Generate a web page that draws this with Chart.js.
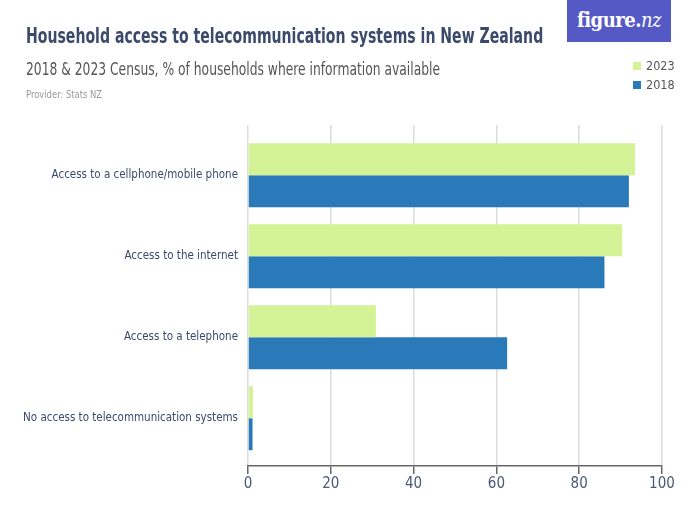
<!DOCTYPE html>
<html>
<head>
<meta charset="utf-8">
<script src="https://cdn.jsdelivr.net/npm/chart.js@4"></script>
<style>
  body { margin: 0; background: #fff; }
  #wrap { position: relative; width: 700px; height: 525px; font-family: "DejaVu Sans Condensed", "Roboto", sans-serif; }
  #chart { position: absolute; left: 0; top: 0; }
  .squeeze { display: inline-block; transform-origin: 0 0; white-space: nowrap; }
  .title { position: absolute; left: 26px; top: 24px; font-size: 21px; font-weight: bold; color: #3b4a6b; transform: scaleX(0.745); }
  .subtitle { position: absolute; left: 26px; top: 59px; font-size: 17px; color: #555; transform: scaleX(0.805); }
  .provider { position: absolute; left: 26px; top: 88px; font-size: 11px; color: #999; transform: scaleX(0.85); }
  .logo { position: absolute; left: 567px; top: 0; width: 104px; height: 42px; background: #5559c6; color: #fff;
          font-family: "DejaVu Serif Condensed", "DejaVu Serif", serif; font-size: 20px; font-weight: bold; text-align: center; line-height: 40px; letter-spacing: -0.5px; }
  .logo i { font-weight: normal; }
  .legend { position: absolute; left: 633px; top: 59px; font-size: 12.5px; color: #555; }
  .legend div { height: 19px; line-height: 14px; }
  .legend span { display: inline-block; width: 8px; height: 8px; margin-right: 5px; }
</style>
</head>
<body>
<div id="wrap">
  <canvas id="chart" width="700" height="525"></canvas>
  <div class="title squeeze">Household access to telecommunication systems in New Zealand</div>
  <div class="subtitle squeeze">2018 &amp; 2023 Census, % of households where information available</div>
  <div class="provider squeeze">Provider: Stats NZ</div>
  <div class="logo">figure.<i>nz</i></div>
  <div class="legend" id="legend"></div>
</div>
<script>
// Categories and values (% of households)
const categories = [
  "Access to a cellphone/mobile phone",
  "Access to the internet",
  "Access to a telephone",
  "No access to telecommunication systems"
];
const values2023 = [93.5, 90.4, 30.9, 1.2];
const values2018 = [92.0, 86.1, 62.6, 1.1];
const xTicks = [0, 20, 40, 60, 80, 100];

const colours = { "2023": "#d4f397", "2018": "#2a7ab9" };

// Helper: turn a value list into {x, y} points on the index axis
const toPoints = (vals) => vals.map((v, i) => ({ x: v, y: i }));

const datasets = [
  { label: "2023", data: toPoints(values2023), backgroundColor: colours["2023"] },
  { label: "2018", data: toPoints(values2018), backgroundColor: colours["2018"] }
];

// Legend in the top right
document.getElementById("legend").innerHTML = datasets
  .map(d => `<div><span style="background:${d.backgroundColor}"></span>${d.label}</div>`)
  .join("");

const labelFont = { family: "'DejaVu Sans Condensed', Roboto, sans-serif" };

new Chart(document.getElementById("chart").getContext("2d"), {
  type: "bar",
  data: { datasets },
  options: {
    responsive: false,
    animation: false,
    indexAxis: "y",
    categoryPercentage: 0.79,
    barPercentage: 1,
    layout: { padding: { top: 125, right: 38, left: 0, bottom: 0 } },
    plugins: {
      legend: { display: false },
      tooltip: { enabled: false }
    },
    scales: {
      x: {
        type: "linear",
        min: 0,
        max: 100,
        afterBuildTicks: (scale) => { scale.ticks = xTicks.map(v => ({ value: v })); },
        afterFit: (scale) => { scale.height = 59; },
        grid: { color: "#dcdcdc", lineWidth: 1.5, tickLength: 8, tickColor: "#666" },
        border: { color: "#666", width: 1.5 },
        ticks: { color: "#4a5878", padding: 1, font: { ...labelFont, size: 15 } }
      },
      y: {
        type: "linear",
        reverse: true,
        offset: false,
        min: -0.62,
        max: 3.59,
        afterBuildTicks: (scale) => { scale.ticks = categories.map((_, i) => ({ value: i })); },
        afterFit: (scale) => { scale.width = 248; },
        grid: { display: false },
        border: { display: false },
        ticks: {
          color: "#3b4a6b",
          padding: 2,
          font: { ...labelFont, size: 11.5 },
          callback: (v) => categories[v]
        }
      }
    }
  }
});
</script>
</body>
</html>
